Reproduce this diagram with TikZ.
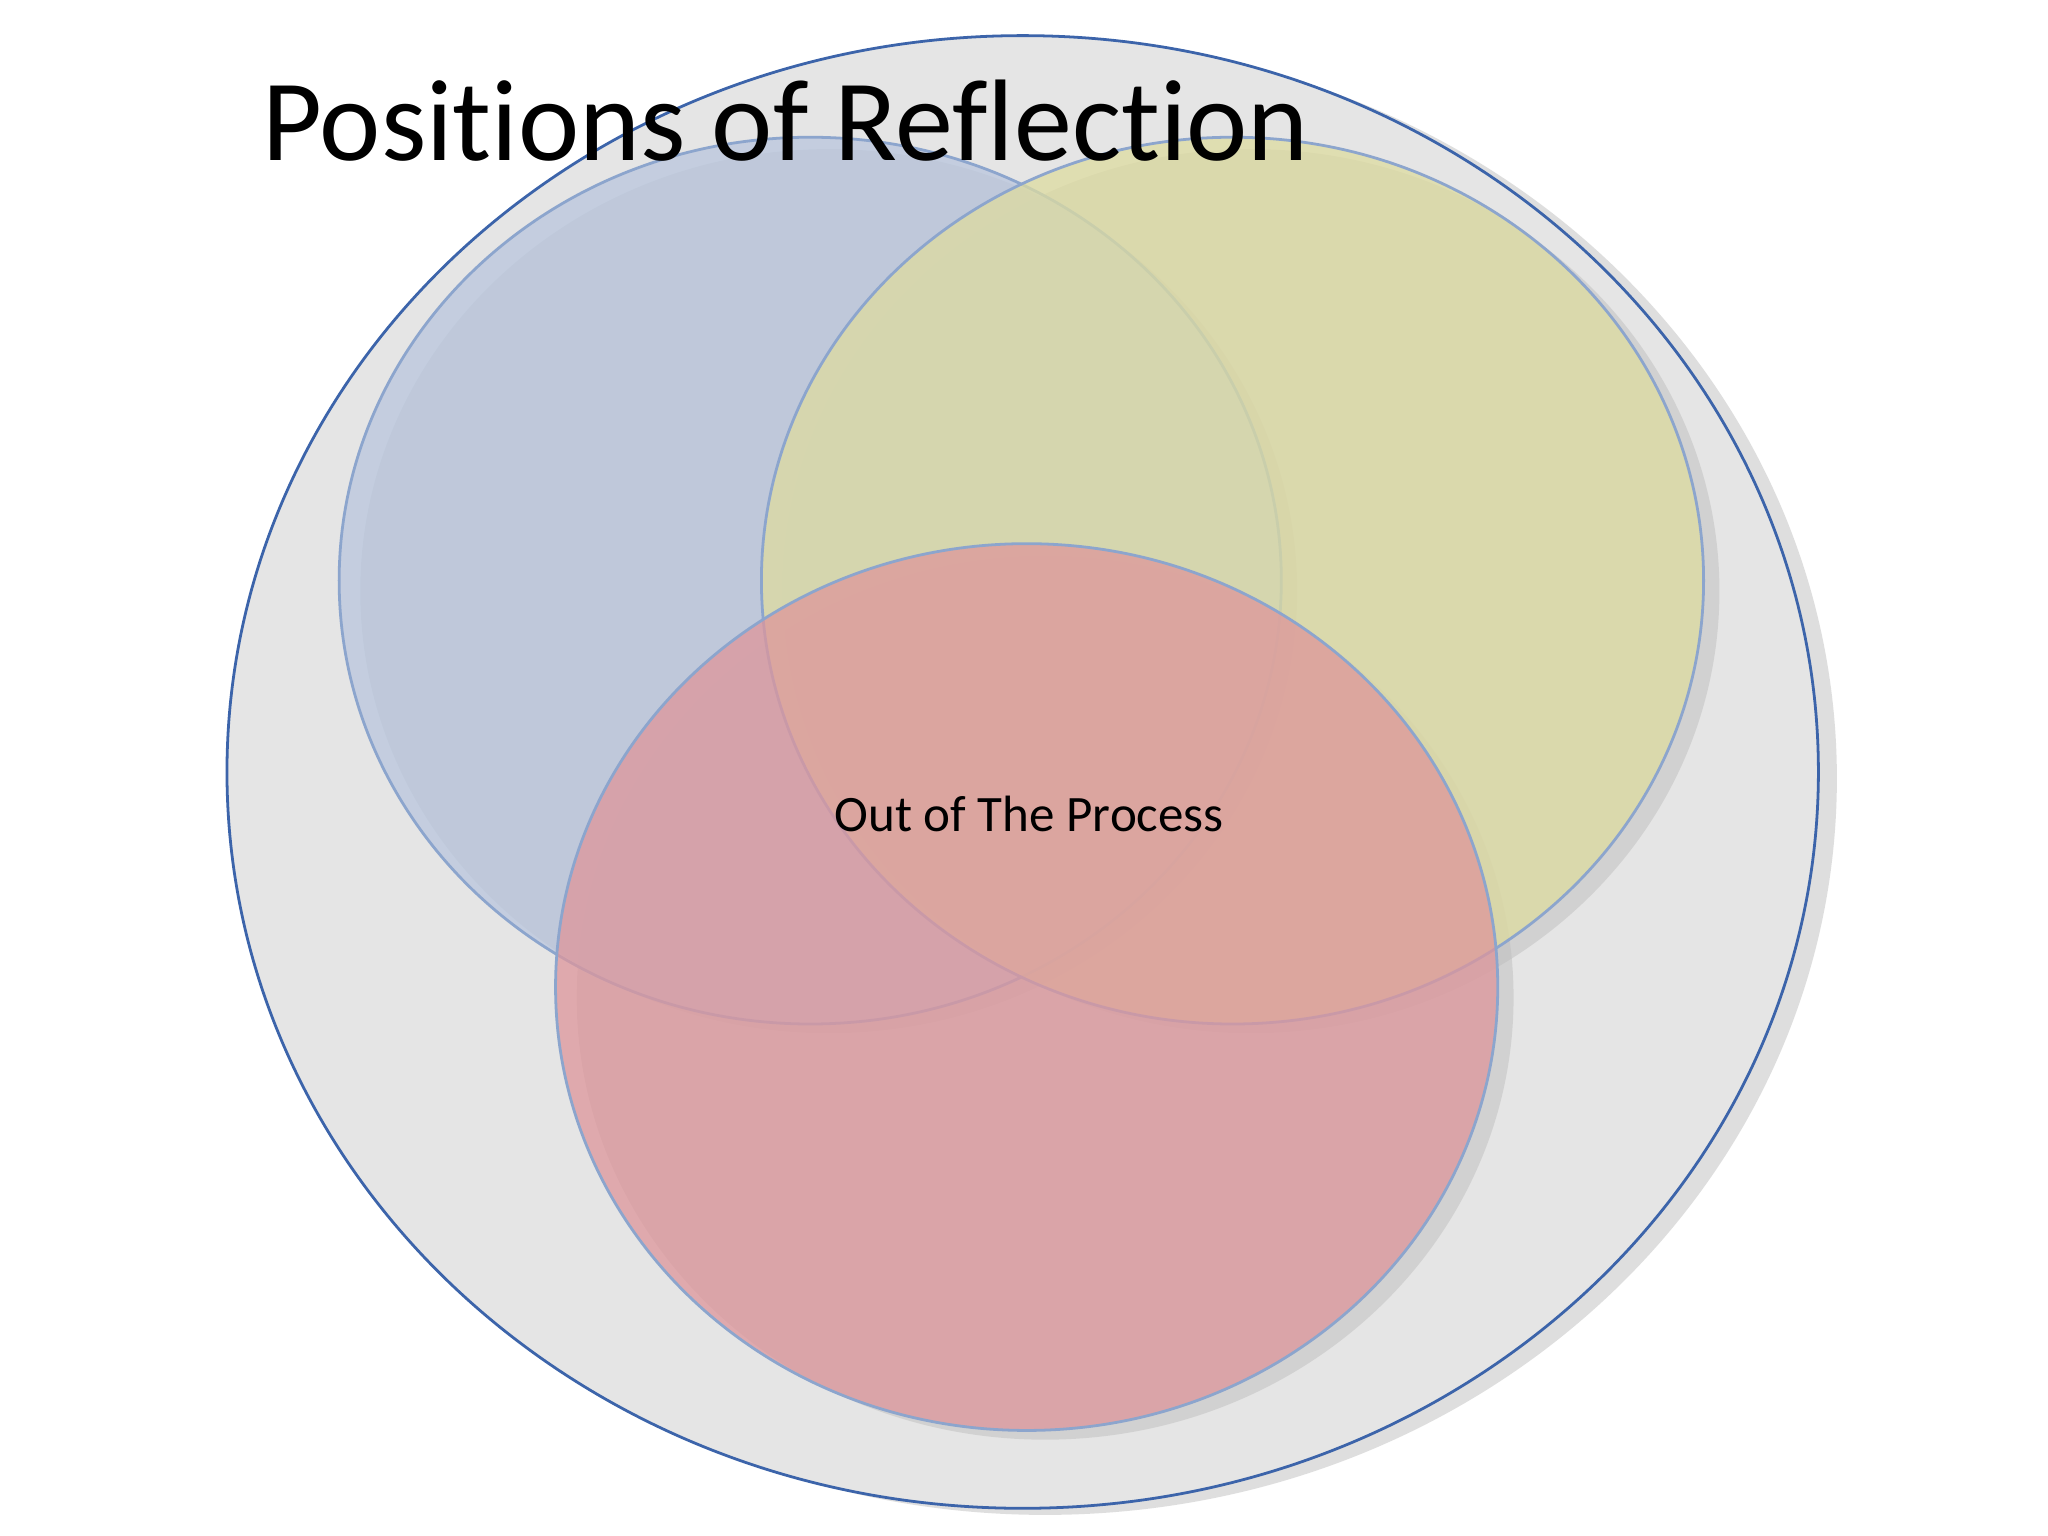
\documentclass[tikz,border=0pt]{standalone}
\usepackage{fontspec}
\setmainfont[Ligatures=NoCommon]{Carlito}
\begin{document}
\begin{tikzpicture}[x=0.01cm,y=-0.01cm,
  venn/.style={draw={rgb,255:red,140;green,165;blue,205},line width=0.6pt,fill opacity=0.75},
  shad/.style={fill=black!25,fill opacity=0.5}]
\useasboundingbox (0,0) rectangle (1552,1164);
\fill[white] (0,0) rectangle (1552,1164);
% outer
\fill[shad] (792,590) ellipse [x radius=600,y radius=558];
\filldraw[fill=black!10,draw={rgb,255:red,60;green,100;blue,170},line width=0.6pt] (775,585) ellipse [x radius=603,y radius=558];
% shadows
\fill[shad] (628,448) ellipse [x radius=355,y radius=335];
\fill[shad] (948,448) ellipse [x radius=355,y radius=335];
\fill[shad] (792,756) ellipse [x radius=355,y radius=335];
\filldraw[venn,fill={rgb,255:red,185;green,198;blue,222}] (614,440) ellipse [x radius=357,y radius=336];
\filldraw[venn,fill={rgb,255:red,222;green,220;blue,160}] (934,440) ellipse [x radius=357,y radius=336];
\filldraw[venn,fill={rgb,255:red,222;green,150;blue,155}] (778,748) ellipse [x radius=357,y radius=336];
\node (lbl) at (780,617) {\fontsize{11pt}{13pt}\selectfont Out of The Process};
\node[anchor=base west,inner sep=0] (title) at (198,122) {\fontsize{25pt}{30pt}\selectfont Positions of Reflection};
\end{tikzpicture}
\end{document}
